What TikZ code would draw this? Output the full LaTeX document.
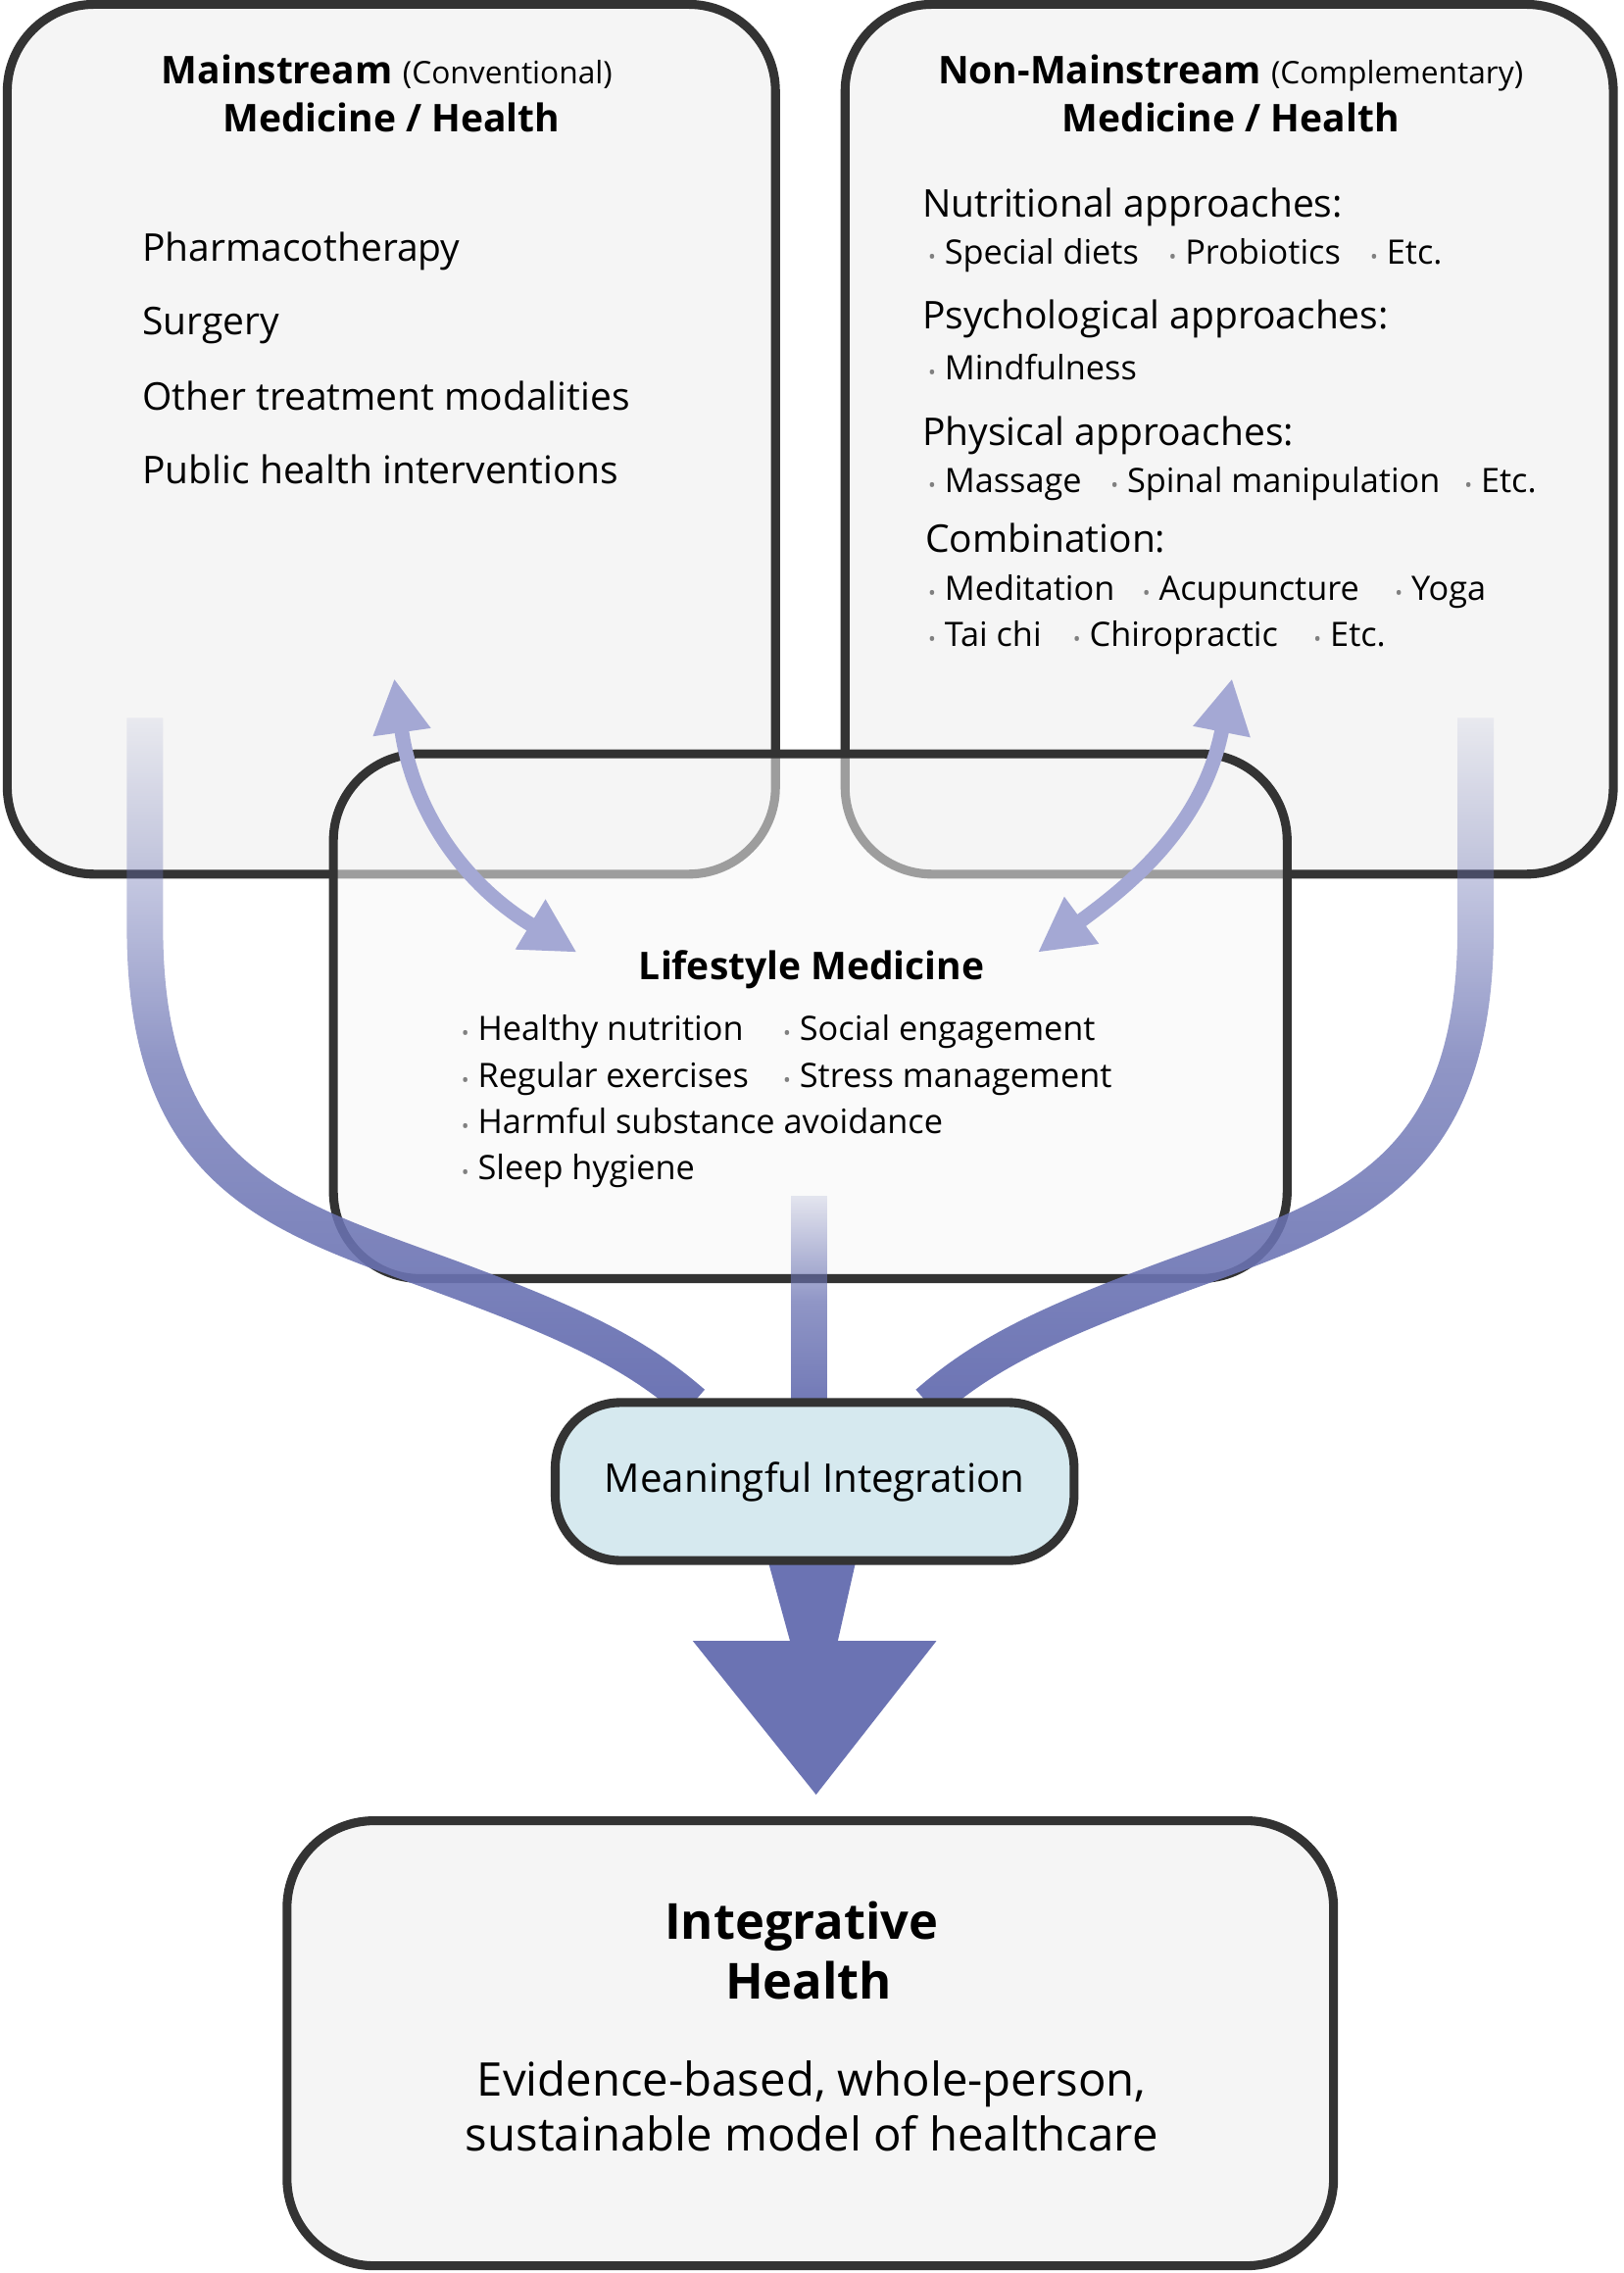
\documentclass[tikz,border=0pt]{standalone}
\usepackage{fontspec}
\setmainfont{Open Sans}
\usetikzlibrary{arrows.meta,fadings}
\definecolor{boxfill}{HTML}{F5F5F5}
\definecolor{flow}{HTML}{6B73B3}
\definecolor{light}{HTML}{A4A8D4}
\definecolor{pill}{HTML}{D6E9EF}
\definecolor{edge}{HTML}{333333}
\tikzfading[name=fadetop, top color=transparent!95, bottom color=transparent!0, middle color=transparent!25]
\newcommand{\bul}{{\color{gray}\fontsize{8}{8}\selectfont\textbullet}\ }
\newcommand{\fs}[1]{\fontsize{#1}{#1}\selectfont}
\begin{document}
\begin{tikzpicture}[x=0.02cm,y=-0.02cm,
  box/.style={draw=edge,line width=3.5pt,fill=boxfill,rounded corners=1.2cm},
  item/.style={anchor=base west,inner sep=0pt,font=\fs{15}},
  sub/.style={anchor=base west,inner sep=0pt,font=\fs{13.2}},
  head/.style={anchor=base west,inner sep=0pt,font=\fs{15}},
  ttl/.style={anchor=base,inner sep=0pt,font=\bfseries\fs{15}},
  ribbon/.style={draw=flow,line width=0.5cm,path fading=fadetop},
  dbl/.style={draw=light,line width=0.2cm,{Triangle[length=0.75cm,width=0.75cm]}-{Triangle[length=0.75cm,width=0.75cm]}}]
\useasboundingbox (0,0) rectangle (1120,1568);
% boxes
\draw[box] (5,3) rectangle (535,603);
\draw[box] (583,3) rectangle (1113,603);
\fill[boxfill,opacity=0.55,rounded corners=1.2cm] (230,520) rectangle (888,882);
\draw[edge,line width=3.5pt,rounded corners=1.2cm] (230,520) rectangle (888,882);
% flows
\draw[ribbon] (100,495) -- (100,640) .. controls (100,820) and (200,840) .. (320,885) .. controls (400,915) and (440,935) .. (478,968) coordinate (lEnd);
\draw[ribbon] (1018,495) -- (1018,640) .. controls (1018,820) and (918,840) .. (798,885) .. controls (718,915) and (678,935) .. (640,968) coordinate (rEnd);
\draw[ribbon] (558,825) -- (558,970) coordinate (mEnd);
% arrow into integrative
\fill[flow] (528,1070) -- (592,1070) -- (578,1132) -- (646,1132) -- (563,1238) coordinate (tip) -- (478,1132) -- (545,1132) -- cycle;
% pill
\node (mi) [draw=edge,line width=3.5pt,fill=pill,rounded corners=0.9cm,minimum width=7.16cm,minimum height=2.18cm,font=\fs{15.5}] at (562,1022) {Meaningful Integration};
% double arrows
\coordinate (la) at (272,468); \coordinate (lb) at (398,657);
\coordinate (ra) at (850,468); \coordinate (rb) at (716,657);
\draw[dbl] (la) .. controls (285,560) and (320,610) .. (lb);
\draw[dbl] (ra) .. controls (830,570) and (780,610) .. (rb);
% left text
\node[ttl] (lt1) at (267,58) {Mainstream {\mdseries\fs{12.2}(Conventional)}};
\node[ttl] (lt2) at (270,91) {Medicine / Health};
\node[item] (l1) at (98,180) {Pharmacotherapy};
\node[item] (l2) at (98,231) {Surgery};
\node[item] (l3) at (98,283) {Other treatment modalities};
\node[item] (l4) at (98,334) {Public health interventions};
% right text
\node[ttl] (rt1) at (849,58) {Non-Mainstream {\mdseries\fs{12.2}(Complementary)}};
\node[ttl] (rt2) at (849,91) {Medicine / Health};
\node[head] (n1) at (636,150) {Nutritional approaches:};
\node[sub] (n2) at (640,182) {\bul Special diets};
\node[sub] (n3) at (806,182) {\bul Probiotics};
\node[sub] (n4) at (945,182) {\bul Etc.};
\node[head] (p1) at (636,227) {Psychological approaches:};
\node[sub] (p2) at (640,262) {\bul Mindfulness};
\node[head] (h1) at (636,307) {Physical approaches:};
\node[sub] (h2) at (640,340) {\bul Massage};
\node[sub] (h3) at (766,340) {\bul Spinal manipulation};
\node[sub] (h4) at (1010,340) {\bul Etc.};
\node[head] (c1) at (638,381) {Combination:};
\node[sub] (c2) at (640,414) {\bul Meditation};
\node[sub] (c3) at (788,414) {\bul Acupuncture};
\node[sub] (c4) at (962,414) {\bul Yoga};
\node[sub] (c5) at (640,446) {\bul Tai chi};
\node[sub] (c6) at (740,446) {\bul Chiropractic};
\node[sub] (c7) at (906,446) {\bul Etc.};
% lifestyle
\node[ttl] (lm) at (560,676) {Lifestyle Medicine};
\node[sub] (m1) at (318,718) {\bul Healthy nutrition};
\node[sub] (m2) at (540,718) {\bul Social engagement};
\node[sub] (m3) at (318,750) {\bul Regular exercises};
\node[sub] (m4) at (540,750) {\bul Stress management};
\node[sub] (m5) at (318,782) {\bul Harmful substance avoidance};
\node[sub] (m6) at (318,814) {\bul Sleep hygiene};
% bottom
\draw[box] (198,1256) rectangle (920,1563);
\node[anchor=base,inner sep=0pt,font=\bfseries\fs{19.5}] (ih1) at (553,1338) {Integrative};
\node[anchor=base,inner sep=0pt,font=\bfseries\fs{19.5}] (ih2) at (558,1379) {Health};
\node[anchor=base,inner sep=0pt,font=\fs{18.2}] (e1) at (560,1446) {Evidence-based, whole-person,};
\node[anchor=base,inner sep=0pt,font=\fs{18.2}] (e2) at (560,1484) {sustainable model of healthcare};
\end{tikzpicture}
\end{document}
